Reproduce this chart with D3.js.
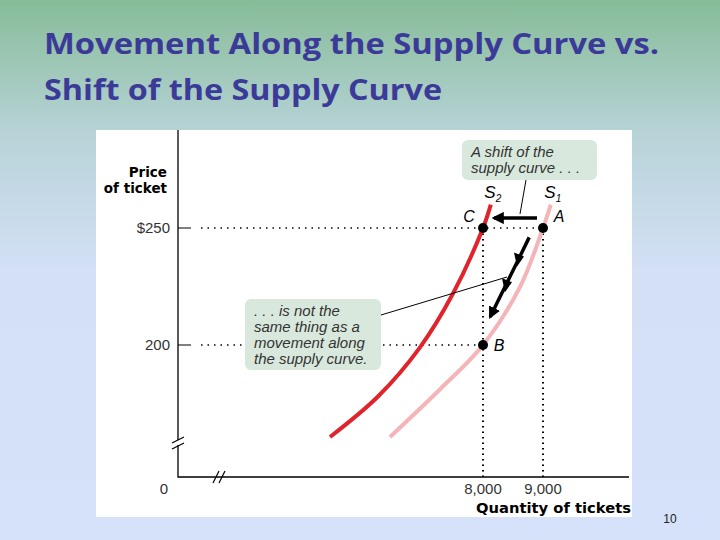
<!DOCTYPE html>
<html><head><meta charset="utf-8">
<script src="https://cdn.jsdelivr.net/npm/d3@7"></script>
<style>body{margin:0;}svg{display:block;}</style>
</head><body>
<script>
// data
var s2 = [[5450,160.7],[6250,178],[6950,199],[7500,222],[8000,250],[8130,260]];
var s1 = [[6450,160.7],[7280,181],[8000,200],[8620,225],[9000,250],[9130,260]];
var points = [
  {name:"C", q:8000, p:250, dx:-14, dy:-6},
  {name:"A", q:9000, p:250, dx:16, dy:-6},
  {name:"B", q:8000, p:200, dx:16, dy:6}
];
var priceTicks = [{p:250, label:"$250"}, {p:200, label:"200"}];
var qtyTicks = [{q:8000, label:"8,000"}, {q:9000, label:"9,000"}];
var move = [[8770,246],[8580,236],[8330,223],[8120,212]];
var moveHeads = [[8600,237],[8400,226]];

var svg = d3.select("body").append("svg").attr("width",720).attr("height",540);
var defs = svg.append("defs");
var g = defs.append("linearGradient").attr("id","bg").attr("x1",0).attr("y1",0).attr("x2",0).attr("y2",1);
g.append("stop").attr("offset","0").attr("stop-color","#86bc98");
g.append("stop").attr("offset","0.25").attr("stop-color","#b8d3d8");
g.append("stop").attr("offset","0.5").attr("stop-color","#d3e0f6");
g.append("stop").attr("offset","1").attr("stop-color","#d6e2fa");
svg.append("rect").attr("width",720).attr("height",540).attr("fill","url(#bg)");
defs.append("marker").attr("id","ah").attr("viewBox","0 0 10 10").attr("refX",8).attr("refY",5)
  .attr("markerWidth",3.5).attr("markerHeight",3.5).attr("orient","auto")
  .append("path").attr("d","M0,0L10,5L0,10z").attr("fill","#000");

svg.append("text").attr("x",44).attr("y",54).attr("font-family","Open Sans, sans-serif")
  .attr("font-weight","bold").attr("font-size",28).attr("fill","#3b3a98")
  .attr("textLength",615).attr("lengthAdjust","spacingAndGlyphs")
  .text("Movement Along the Supply Curve vs.");
svg.append("text").attr("x",44).attr("y",100).attr("font-family","Open Sans, sans-serif")
  .attr("font-weight","bold").attr("font-size",28).attr("fill","#3b3a98")
  .attr("textLength",398).attr("lengthAdjust","spacingAndGlyphs")
  .text("Shift of the Supply Curve");
svg.append("text").attr("x",670).attr("y",523).attr("font-family","Liberation Sans, sans-serif")
  .attr("font-size",12).attr("fill","#222").attr("text-anchor","middle").text("10");

svg.append("rect").attr("x",96).attr("y",130).attr("width",536).attr("height",387).attr("fill","#fff");

var x = d3.scaleLinear().domain([8000,9000]).range([483,543]);
var y = d3.scaleLinear().domain([200,250]).range([345,228]);
var x0 = 178, y0 = 477;
var font = "Liberation Sans, Arial, sans-serif";

// dotted guides
priceTicks.forEach(function(t){
  var xe = t.p == 250 ? x(9000) : x(8000);
  svg.append("line").attr("x1",201).attr("x2",xe).attr("y1",y(t.p)).attr("y2",y(t.p))
    .attr("stroke","#000").attr("stroke-width",1.5).attr("stroke-dasharray","1.5,5");
  svg.append("line").attr("x1",x0).attr("x2",x0+13).attr("y1",y(t.p)).attr("y2",y(t.p)).attr("stroke","#000");
  svg.append("text").attr("x",170).attr("y",y(t.p)+5).attr("text-anchor","end")
    .attr("font-family",font).attr("font-size",15).attr("fill","#333").text(t.label);
});
qtyTicks.forEach(function(t){
  svg.append("line").attr("x1",x(t.q)).attr("x2",x(t.q)).attr("y1",y(250)).attr("y2",y0)
    .attr("stroke","#000").attr("stroke-width",2).attr("stroke-dasharray","1.5,4");
  svg.append("text").attr("x",x(t.q)).attr("y",y0+17).attr("text-anchor","middle")
    .attr("font-family",font).attr("font-size",15).attr("fill","#333").text(t.label);
});

// axes
svg.append("path").attr("d","M"+x0+",130V"+y0+"H629").attr("fill","none").attr("stroke","#000").attr("stroke-width",1.3);
svg.append("rect").attr("x",173).attr("y",440).attr("width",10).attr("height",5).attr("fill","#fff");
svg.append("path").attr("d","M172,443L184,437M172,449L184,443").attr("stroke","#000").attr("stroke-width",1.2);
svg.append("path").attr("d","M213,483L219,471M219,483L225,471").attr("stroke","#000").attr("stroke-width",1.2);
svg.append("text").attr("x",164).attr("y",494).attr("text-anchor","middle").attr("font-family",font).attr("font-size",15).attr("fill","#333").text("0");
svg.append("text").attr("x",167).attr("y",177).attr("text-anchor","end").attr("font-family","DejaVu Sans, sans-serif").attr("font-weight","bold").attr("font-size",13.5).text("Price");
svg.append("text").attr("x",167).attr("y",193).attr("text-anchor","end").attr("font-family","DejaVu Sans, sans-serif").attr("font-weight","bold").attr("font-size",13.5).text("of ticket");
svg.append("text").attr("x",631).attr("y",513).attr("text-anchor","end").attr("font-family","DejaVu Sans, sans-serif").attr("font-weight","bold").attr("font-size",13.5)
  .attr("textLength",155).attr("lengthAdjust","spacingAndGlyphs").text("Quantity of tickets");

// curves
var line = d3.line().x(function(d){return x(d[0]);}).y(function(d){return y(d[1]);}).curve(d3.curveCatmullRom);
svg.append("path").attr("d",line(s1)).attr("fill","none").attr("stroke","#f4b4b8").attr("stroke-width",4);
svg.append("path").attr("d",line(s2)).attr("fill","none").attr("stroke","#e0242c").attr("stroke-width",4);
svg.append("text").attr("x",x(8130)+2).attr("y",198).attr("text-anchor","middle").attr("font-family",font).attr("font-style","italic").attr("font-size",17).text("S").append("tspan").attr("font-size",10).attr("dy",4).text("2");
svg.append("text").attr("x",x(9130)+2).attr("y",198).attr("text-anchor","middle").attr("font-family",font).attr("font-style","italic").attr("font-size",17).text("S").append("tspan").attr("font-size",10).attr("dy",4).text("1");

// arrows
svg.append("line").attr("x1",537).attr("y1",y(250)-10).attr("x2",494).attr("y2",y(250)-10)
  .attr("stroke","#000").attr("stroke-width",3.5).attr("marker-end","url(#ah)");
svg.append("path").attr("d",line(move))
  .attr("fill","none").attr("stroke","#000").attr("stroke-width",3.5).attr("marker-end","url(#ah)");
moveHeads.forEach(function(d){
  var cx = x(d[0]), cy = y(d[1]);
  svg.append("path").attr("d","M"+(cx-5)+","+(cy-6)+"L"+(cx-2)+","+(cy+8)+"L"+(cx+5)+","+(cy-2)+"z")
    .attr("fill","#000");
});

// points
points.forEach(function(d){
  svg.append("circle").attr("cx",x(d.q)).attr("cy",y(d.p)).attr("r",5).attr("fill","#000");
  svg.append("text").attr("x",x(d.q)+d.dx).attr("y",y(d.p)+d.dy).attr("text-anchor","middle")
    .attr("font-family",font).attr("font-style","italic").attr("font-size",16).text(d.name);
});

// annotations
svg.append("line").attr("x1",526).attr("y1",180).attr("x2",520).attr("y2",214).attr("stroke","#000");
svg.append("line").attr("x1",381).attr("y1",315).attr("x2",507).attr("y2",277).attr("stroke","#000");
function note(x1,y1,w,h,lines){
  svg.append("rect").attr("x",x1).attr("y",y1).attr("width",w).attr("height",h).attr("rx",6).attr("fill","#d9e8dd");
  lines.forEach(function(t,i){
    svg.append("text").attr("x",x1+9).attr("y",y1+17+i*16).attr("font-family",font).attr("font-style","italic")
      .attr("font-size",15).attr("fill","#333").text(t);
  });
}
note(462,140,135,40,["A shift of the","supply curve . . ."]);
note(245,299,136,71,[". . . is not the","same thing as a","movement along","the supply curve."]);
</script>
</body></html>
